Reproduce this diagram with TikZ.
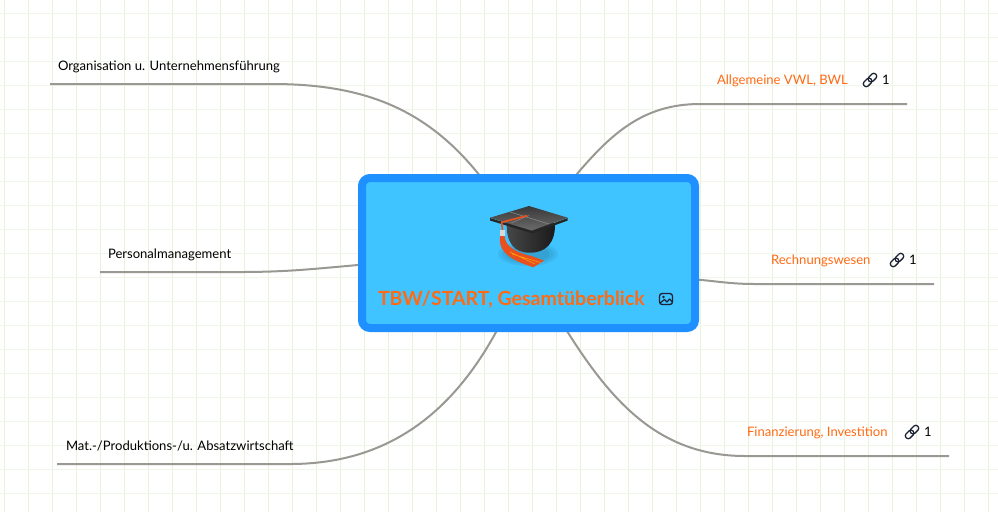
\documentclass[tikz,border=0pt]{standalone}
\usepackage{fontspec}
\setmainfont{Lato}
\usetikzlibrary{backgrounds}
\definecolor{gridv}{HTML}{E8F1DC}
\definecolor{gridh}{HTML}{F0F6E9}
\definecolor{paper}{HTML}{FFFFFF}
\definecolor{branch}{HTML}{999893}
\definecolor{boxline}{HTML}{1E90FF}
\definecolor{boxfill}{HTML}{40C4FF}
\definecolor{orangetext}{HTML}{FF6A13}
\definecolor{tassel}{HTML}{E8501E}
\definecolor{icon}{HTML}{1B2233}
\tikzstyle{none}=[inner sep=0pt, outer sep=0pt]
\tikzstyle{rootbox}=[draw=boxline, fill=boxfill, line width=6pt, rounded corners=6pt, minimum width=249.75pt, minimum height=112.5pt, outer sep=0pt]
\tikzstyle{branchline}=[draw=branch, line width=1.5pt]
\tikzstyle{blacktext}=[none, anchor=west, text=black, font=\fontsize{9.8}{12}\selectfont]
\tikzstyle{orangelabel}=[none, anchor=west, text=orangetext, font=\fontsize{9.8}{12}\selectfont]
\tikzset{
	linkicon/.pic={
		\draw [icon, line width=0.95pt, rounded corners=2pt, rotate=45] (-8.2,-2.9) rectangle (1.4,2.9);
		\draw [icon, line width=0.95pt, rounded corners=2pt, rotate=45] (-1.4,-2.9) rectangle (8.2,2.9);
	}
}
\begin{document}
\begin{tikzpicture}[x=0.75pt, y=-0.75pt]
	\useasboundingbox (0,0) rectangle (998,512);
	\node [style=rootbox] (0) at (528.5,253) {};
	\node [style=none, text=orangetext, font=\fontsize{14.65}{16}\bfseries\selectfont, anchor=west] (1) at (378,300) {TBW/START, Gesamtüberblick};
	\node [style=blacktext] (2) at (58,66.5) {Organisation u. Unternehmensführung};
	\node [style=blacktext] (3) at (108,255) {Personalmanagement};
	\node [style=blacktext] (4) at (66,446) {Mat.-/Produktions-/u. Absatzwirtschaft};
	\node [style=orangelabel] (5) at (717,81) {Allgemeine VWL, BWL};
	\node [style=orangelabel] (6) at (771,261) {Rechnungswesen};
	\node [style=orangelabel] (7) at (747,433) {Finanzierung, Investition};
	\node [style=blacktext] (8) at (882,80) {1};
	\node [style=blacktext] (9) at (909,260) {1};
	\node [style=blacktext] (10) at (924,432) {1};
	\node [style=none] (11) at (50,84) {};
	\node [style=none] (12) at (272,84) {};
	\node [style=none] (13) at (100,272) {};
	\node [style=none] (14) at (240,272) {};
	\node [style=none] (15) at (57,464) {};
	\node [style=none] (16) at (290,464) {};
	\node [style=none] (17) at (907,104) {};
	\node [style=none] (18) at (700,104) {};
	\node [style=none] (19) at (934,284) {};
	\node [style=none] (20) at (755,284) {};
	\node [style=none] (21) at (949,456) {};
	\node [style=none] (22) at (745,456) {};
	\begin{scope}[on background layer]
		\fill [paper] (0,0) rectangle (998,512);
		\foreach \gx in {0,...,41}
			\draw [gridv, line width=0.75pt] ({4.3+24*\gx},0) -- ({4.3+24*\gx},512);
		\foreach \gy in {0,...,20}
			\draw [gridh, line width=0.75pt] (0,{13.3+24*\gy}) -- (998,{13.3+24*\gy});
		\draw [style=branchline] (11.center) -- (12.center) to [out=0, in=128, looseness=1.0] (0.122);
		\draw [style=branchline] (13.center) -- (14.center) to [out=0, in=185, looseness=1.0] (0.184);
		\draw [style=branchline] (15.center) -- (16.center) to [out=0, in=-118, looseness=1.0] (0.-112);
		\draw [style=branchline] (17.center) -- (18.center) to [out=180, in=50, looseness=1.0] (0.59);
		\draw [style=branchline] (19.center) -- (20.center) to [out=180, in=-5, looseness=1.0] (0.-9);
		\draw [style=branchline] (21.center) -- (22.center) to [out=180, in=-58, looseness=1.0] (0.-64);
	\end{scope}
	\pic at (870,80) {linkicon};
	\pic at (897,260) {linkicon};
	\pic at (912,432) {linkicon};
	\draw [icon, line width=1pt, rounded corners=2pt] (659.5,293.5) rectangle (672.5,304.5);
	\fill [icon] (663.5,297) circle (1.3);
	\draw [icon, line width=0.9pt, line join=round] (660,303) -- (664.5,299.5) -- (667,302) -- (669.5,299) -- (672.5,302);
	\foreach \rx/\ry in {30/12,26/10,22/8}
		\fill [black, opacity=0.06] (528,254) ellipse ({\rx} and {\ry});
	\path [left color=black!72, right color=black!90] (506.7,223) -- (555,223) .. controls (555.5,243) and (546,252.7) .. (530,252.7) .. controls (514,252.7) and (506.2,243) .. (506.7,223) -- cycle;
	\fill [black!85] (490,218) -- (532,231) -- (567.7,218) -- (567.7,220.5) -- (532.5,233.5) -- (490,220.5) -- cycle;
	\path [top color=black!78, bottom color=black!58] (490,217.7) -- (529,206) -- (567.7,217.7) -- (531.7,230.5) -- cycle;
	\draw [black!45, line width=0.4pt] (510,212) -- (549,224) (529,215.5) -- (511,223);
	\draw [tassel, line width=1.3pt, line join=round] (527,215.7) -- (501.7,222.3) -- (502.5,230);
	\fill [black!15] (500,230) rectangle (504.8,236);
	\fill [tassel] (500.2,236) -- (504.6,236) .. controls (505,246) and (516,253) .. (531.7,256) -- (544,260.7) -- (533.3,267.3) .. controls (518,262) and (497,255) .. (500.2,236) -- cycle;
	\draw [orangetext!60!yellow, line width=0.4pt] (512,254) -- (540,262.5) (510,252) -- (535,264);
\end{tikzpicture}
\end{document}
